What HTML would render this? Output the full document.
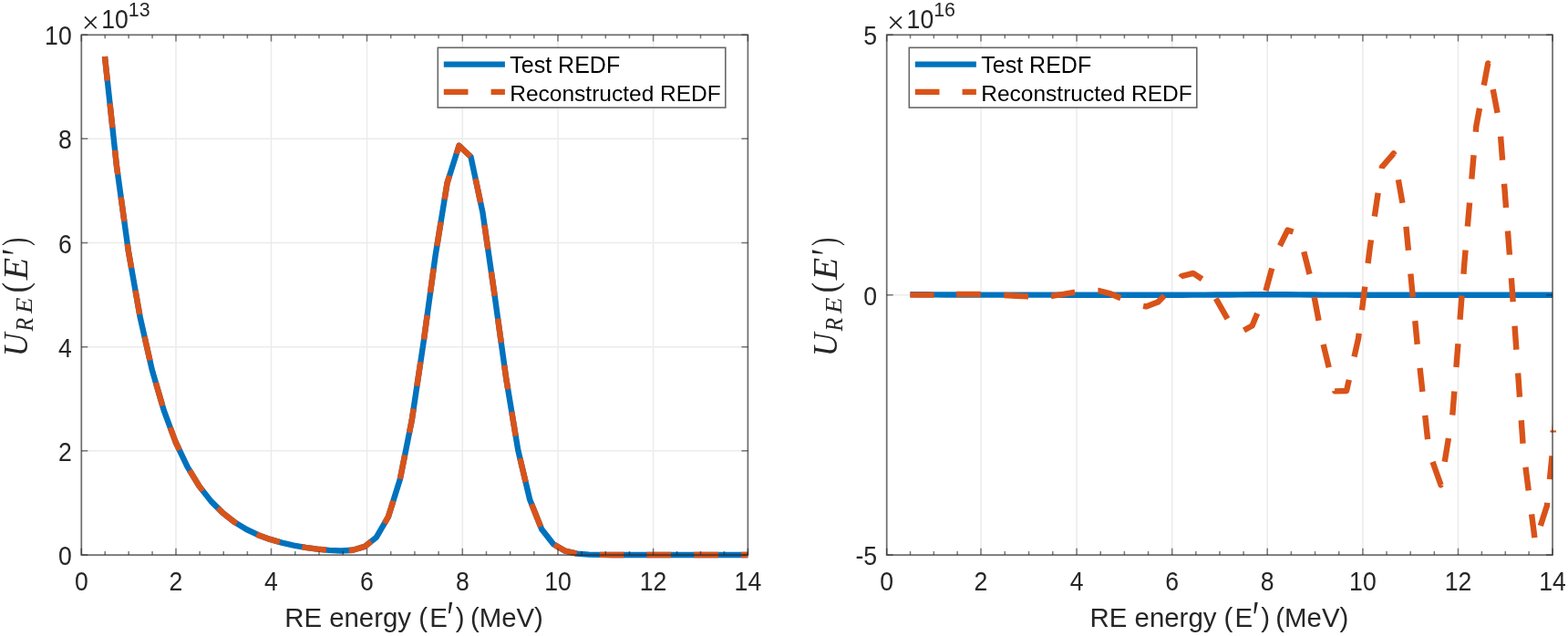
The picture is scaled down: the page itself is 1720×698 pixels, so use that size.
<!DOCTYPE html>
<html><head><meta charset="utf-8"><title>REDF reconstruction</title>
<style>
html,body{margin:0;padding:0;background:#fff;}
body{width:1720px;height:698px;overflow:hidden;}
svg{display:block;}
.g{stroke:#ebebeb;stroke-width:1.5;fill:none;}
.ax{fill:none;stroke:#262626;stroke-width:1.7;stroke-opacity:0.68;}
.t{stroke:#262626;stroke-width:1.5;stroke-opacity:0.6;fill:none;}
.tl{font-family:"Liberation Sans",Arial,sans-serif;font-size:26.6px;fill:#262626;}
.tx{font-family:"Liberation Serif","Times New Roman",serif;font-size:34px;fill:#262626;}
.sup{font-family:"Liberation Sans",Arial,sans-serif;font-size:21.4px;fill:#262626;}
.xl{font-family:"Liberation Sans",Arial,sans-serif;font-size:29.4px;fill:#262626;}
.pr{font-family:"Liberation Sans",Arial,sans-serif;font-size:200px;fill:#262626;}
.yl{font-family:"Liberation Serif","Times New Roman",serif;font-size:200px;fill:#262626;}
.lg{fill:#fff;stroke:#262626;stroke-width:1.6;stroke-opacity:0.7;}
.lt{font-family:"Liberation Sans",Arial,sans-serif;font-size:24.5px;fill:#000;}
</style></head><body>
<svg width="1720" height="698" viewBox="0 0 1720 698">
<defs>
<clipPath id="cl"><rect x="89.30" y="34.30" width="731.10" height="578.80"/></clipPath>
<clipPath id="cr"><rect x="972.70" y="34.30" width="730.35" height="578.80"/></clipPath>
</defs>
<line x1="193.00" y1="38.30" x2="193.00" y2="609.10" class="g"/>
<line x1="297.50" y1="38.30" x2="297.50" y2="609.10" class="g"/>
<line x1="402.50" y1="38.30" x2="402.50" y2="609.10" class="g"/>
<line x1="507.30" y1="38.30" x2="507.30" y2="609.10" class="g"/>
<line x1="612.00" y1="38.30" x2="612.00" y2="609.10" class="g"/>
<line x1="716.60" y1="38.30" x2="716.60" y2="609.10" class="g"/>
<line x1="89.30" y1="494.84" x2="820.40" y2="494.84" class="g"/>
<line x1="89.30" y1="380.68" x2="820.40" y2="380.68" class="g"/>
<line x1="89.30" y1="266.52" x2="820.40" y2="266.52" class="g"/>
<line x1="89.30" y1="152.36" x2="820.40" y2="152.36" class="g"/>
<g clip-path="url(#cl)">
<path d="M114.97,61.99 L127.92,182.01 L140.88,275.69 L153.83,348.82 L166.78,405.91 L179.73,450.47 L192.68,485.25 L205.63,512.40 L218.58,533.60 L231.53,550.14 L244.49,563.05 L257.44,573.13 L270.39,581.00 L283.34,587.15 L296.29,591.94 L309.24,595.68 L322.19,598.60 L335.14,600.88 L348.10,602.62 L361.05,603.87 L374.00,604.45 L386.95,603.70 L399.90,599.92 L412.85,589.69 L425.80,567.42 L438.75,526.29 L451.71,461.46 L464.66,375.14 L477.61,280.55 L490.56,200.69 L503.51,159.89 L516.46,171.99 L529.41,232.84 L542.36,322.58 L555.32,416.09 L568.27,494.06 L581.22,548.41 L594.17,580.74 L607.12,597.33 L620.07,604.73 L633.02,607.61 L645.97,608.59 L658.93,608.88 L671.88,608.97 L684.83,608.99 L697.78,608.99 L710.73,608.99 L723.68,609.00 L736.63,609.00 L749.58,609.00 L762.54,609.00 L775.49,609.00 L788.44,609.00 L801.39,609.00 L814.34,609.00 L827.29,609.00 L840.24,609.00" fill="none" stroke="#0072BD" stroke-width="6.4" stroke-linejoin="round"/>
<path d="M114.97,61.99 L127.92,182.01 L140.88,275.69 L153.83,348.82 L166.78,405.91 L179.73,450.47 L192.68,485.25 L205.63,512.40 L218.58,533.60 L231.53,550.14 L244.49,563.05 L257.44,573.13 L270.39,581.00 L283.34,587.15 L296.29,591.94 L309.24,595.68 L322.19,598.60 L335.14,600.88 L348.10,602.62 L361.05,603.87 L374.00,604.45 L386.95,603.70 L399.90,599.92 L412.85,589.69 L425.80,567.42 L438.75,526.29 L451.71,461.46 L464.66,375.14 L477.61,280.55 L490.56,200.69 L503.51,159.89 L516.46,171.99 L529.41,232.84 L542.36,322.58 L555.32,416.09 L568.27,494.06 L581.22,548.41 L594.17,580.74 L607.12,597.33 L620.07,604.73 L633.02,607.61 L645.97,608.59 L658.93,608.88 L671.88,608.97 L684.83,608.99 L697.78,608.99 L710.73,608.99 L723.68,609.00 L736.63,609.00 L749.58,609.00 L762.54,609.00 L775.49,609.00 L788.44,609.00 L801.39,609.00 L814.34,609.00 L827.29,609.00 L840.24,609.00" fill="none" stroke="#D95319" stroke-width="6.4" stroke-dasharray="26.7 25.1" stroke-linejoin="round"/>
</g>
<rect x="89.30" y="38.30" width="731.10" height="570.80" class="ax"/>
<path d="M89.30,609.10V601.80M89.30,38.30V45.60M115.22,609.10V605.10M115.22,38.30V42.30M141.15,609.10V605.10M141.15,38.30V42.30M167.07,609.10V605.10M167.07,38.30V42.30M193.00,609.10V601.80M193.00,38.30V45.60M219.12,609.10V605.10M219.12,38.30V42.30M245.25,609.10V605.10M245.25,38.30V42.30M271.38,609.10V605.10M271.38,38.30V42.30M297.50,609.10V601.80M297.50,38.30V45.60M323.75,609.10V605.10M323.75,38.30V42.30M350.00,609.10V605.10M350.00,38.30V42.30M376.25,609.10V605.10M376.25,38.30V42.30M402.50,609.10V601.80M402.50,38.30V45.60M428.70,609.10V605.10M428.70,38.30V42.30M454.90,609.10V605.10M454.90,38.30V42.30M481.10,609.10V605.10M481.10,38.30V42.30M507.30,609.10V601.80M507.30,38.30V45.60M533.48,609.10V605.10M533.48,38.30V42.30M559.65,609.10V605.10M559.65,38.30V42.30M585.83,609.10V605.10M585.83,38.30V42.30M612.00,609.10V601.80M612.00,38.30V45.60M638.15,609.10V605.10M638.15,38.30V42.30M664.30,609.10V605.10M664.30,38.30V42.30M690.45,609.10V605.10M690.45,38.30V42.30M716.60,609.10V601.80M716.60,38.30V45.60M742.55,609.10V605.10M742.55,38.30V42.30M768.50,609.10V605.10M768.50,38.30V42.30M794.45,609.10V605.10M794.45,38.30V42.30M820.40,609.10V601.80M820.40,38.30V45.60M89.30,609.00H96.30M820.40,609.00H813.40M89.30,494.84H96.30M820.40,494.84H813.40M89.30,380.68H96.30M820.40,380.68H813.40M89.30,266.52H96.30M820.40,266.52H813.40M89.30,152.36H96.30M820.40,152.36H813.40M89.30,38.20H96.30M820.40,38.20H813.40" class="t"/>
<rect x="480.30" y="52.30" width="315.50" height="65.80" class="lg"/>
<line x1="486.80" y1="70.6" x2="553.90" y2="70.6" stroke="#0072BD" stroke-width="6.4"/>
<line x1="486.80" y1="100.9" x2="553.90" y2="100.9" stroke="#D95319" stroke-width="6.4" stroke-dasharray="26.7 25.1"/>
<text x="559.30" y="79.8" class="lt" style="font-size:25px">Test REDF</text>
<text x="559.30" y="110.8" class="lt">Reconstructed REDF</text>
<text transform="translate(89.30,647.8) scale(1,1.09)" class="tl" text-anchor="middle">0</text>
<text transform="translate(193.00,647.8) scale(1,1.09)" class="tl" text-anchor="middle">2</text>
<text transform="translate(297.50,647.8) scale(1,1.09)" class="tl" text-anchor="middle">4</text>
<text transform="translate(402.50,647.8) scale(1,1.09)" class="tl" text-anchor="middle">6</text>
<text transform="translate(507.30,647.8) scale(1,1.09)" class="tl" text-anchor="middle">8</text>
<text transform="translate(612.00,647.8) scale(1,1.09)" class="tl" text-anchor="middle">10</text>
<text transform="translate(716.60,647.8) scale(1,1.09)" class="tl" text-anchor="middle">12</text>
<text transform="translate(820.40,647.8) scale(1,1.09)" class="tl" text-anchor="middle">14</text>
<text transform="translate(78.70,620.00) scale(1,1.09)" class="tl" text-anchor="end">0</text>
<text transform="translate(78.70,505.84) scale(1,1.09)" class="tl" text-anchor="end">2</text>
<text transform="translate(78.70,391.68) scale(1,1.09)" class="tl" text-anchor="end">4</text>
<text transform="translate(78.70,277.52) scale(1,1.09)" class="tl" text-anchor="end">6</text>
<text transform="translate(78.70,163.36) scale(1,1.09)" class="tl" text-anchor="end">8</text>
<text transform="translate(78.70,49.20) scale(1,1.09)" class="tl" text-anchor="end">10</text>
<text x="89.70" y="36.3" class="tx">&#215;</text>
<text transform="translate(111.20,31.2) scale(1,1.09)" class="tl">10</text>
<text x="140.80" y="18.0" class="sup">13</text>
<text x="312.20" y="687.7" class="xl">RE energy (</text>
<text x="471.20" y="687.7" class="xl">E</text>
<text transform="translate(490.60,693.9) scale(0.17,0.2406)" class="pr">&#8242;</text>
<text x="499.80" y="687.7" class="xl">)</text>
<text x="515.90" y="687.7" class="xl">(MeV)</text>
<text transform="translate(29.82,391.19) rotate(-90) scale(0.1787,0.1917)" class="yl" font-style="italic">U</text>
<text transform="translate(35.70,363.58) rotate(-90) scale(0.1192,0.1369)" class="yl" font-style="italic">R</text>
<text transform="translate(35.20,343.91) rotate(-90) scale(0.1430,0.1282)" class="yl" font-style="italic">E</text>
<text transform="translate(29.96,321.32) rotate(-90) scale(0.1686,0.1961)" class="yl" font-style="normal">(</text>
<text transform="translate(29.60,307.20) rotate(-90) scale(0.2000,0.1847)" class="yl" font-style="italic">E</text>
<text transform="translate(34.62,280.35) rotate(-90) scale(0.1750,0.2383)" class="yl" font-style="normal">&#8242;</text>
<text transform="translate(29.96,269.93) rotate(-90) scale(0.1385,0.1961)" class="yl" font-style="normal">)</text>
<line x1="1076.00" y1="38.30" x2="1076.00" y2="609.10" class="g"/>
<line x1="1181.10" y1="38.30" x2="1181.10" y2="609.10" class="g"/>
<line x1="1285.70" y1="38.30" x2="1285.70" y2="609.10" class="g"/>
<line x1="1390.20" y1="38.30" x2="1390.20" y2="609.10" class="g"/>
<line x1="1494.90" y1="38.30" x2="1494.90" y2="609.10" class="g"/>
<line x1="1599.50" y1="38.30" x2="1599.50" y2="609.10" class="g"/>
<line x1="972.70" y1="323.70" x2="1703.05" y2="323.70" class="g"/>
<g clip-path="url(#cr)">
<path d="M998.46,323.15 L1011.39,323.27 L1024.33,323.37 L1037.26,323.44 L1050.20,323.50 L1063.13,323.54 L1076.07,323.58 L1089.00,323.60 L1101.94,323.62 L1114.87,323.64 L1127.81,323.65 L1140.74,323.66 L1153.68,323.67 L1166.61,323.68 L1179.55,323.68 L1192.48,323.69 L1205.42,323.69 L1218.35,323.69 L1231.29,323.69 L1244.22,323.69 L1257.16,323.70 L1270.09,323.69 L1283.03,323.69 L1295.96,323.68 L1308.90,323.66 L1321.83,323.62 L1334.77,323.55 L1347.70,323.47 L1360.64,323.37 L1373.57,323.29 L1386.51,323.25 L1399.44,323.26 L1412.38,323.32 L1425.31,323.41 L1438.25,323.51 L1451.18,323.59 L1464.12,323.64 L1477.05,323.67 L1489.99,323.69 L1502.92,323.70 L1515.86,323.70 L1528.79,323.70 L1541.73,323.70 L1554.66,323.70 L1567.60,323.70 L1580.53,323.70 L1593.47,323.70 L1606.40,323.70 L1619.33,323.70 L1632.27,323.70 L1645.20,323.70 L1658.14,323.70 L1671.07,323.70 L1684.01,323.70 L1696.94,323.70 L1709.88,323.70 L1722.81,323.70" fill="none" stroke="#0072BD" stroke-width="6.4" stroke-linejoin="round"/>
<path d="M998.46,323.60 L1011.39,323.67 L1024.33,323.60 L1037.26,323.29 L1050.20,322.97 L1063.13,322.86 L1076.07,323.00 L1089.00,323.42 L1101.94,324.05 L1114.87,324.80 L1127.81,325.40 L1140.74,325.56 L1153.68,324.86 L1166.61,322.94 L1179.55,320.64 L1192.48,318.83 L1205.42,319.02 L1218.35,322.46 L1231.29,328.02 L1244.22,334.10 L1257.16,336.42 L1270.09,331.61 L1283.03,318.82 L1295.96,303.17 L1308.90,299.89 L1321.83,308.36 L1334.77,329.37 L1347.70,352.03 L1360.64,364.69 L1373.57,357.42 L1386.51,326.51 L1399.44,279.01 L1412.38,252.60 L1425.31,256.68 L1438.25,307.83 L1451.18,376.37 L1464.12,429.36 L1477.05,429.05 L1489.99,371.64 L1502.92,270.40 L1515.86,183.44 L1528.79,168.36 L1541.73,241.36 L1554.66,377.37 L1567.60,495.83 L1580.53,532.26 L1593.47,453.35 L1606.40,288.22 L1619.33,138.42 L1632.27,69.41 L1645.20,137.66 L1658.14,309.12 L1671.07,494.24 L1684.01,594.97 L1696.94,554.98 L1709.88,429.05" fill="none" stroke="#D95319" stroke-width="6.4" stroke-dasharray="26.1 24.6 26.6 25.5 26.8 25.1 26.4 25.4 26.4 26.4 26.9 26.7 26.7 26.5 25.6 25.1 24.9 26.6 25.6 26.4 25.5 27.4 25.3 25.8 26.2 26.6 25.9 26.4 26.0 26.0 26.1 25.8 25.9 25.9 25.8 26.1 26.2 27.0 23.0 27.7 25.9 26.3 26.2 25.8 25.8 26.1 25.8 26.3 26.0 26.3 26.3 25.6 26.9 25.9 26.1 25.8 26.0 26.6 25.9 26.6 26.2 24.0 26.2 26.1 26.2 26.0 26.3 25.6 26.3 25.8 25.1 28.7 26.1 26.2 26.2 26.0 26.2 25.7 26.2 25.6 26.1 26.6 26.1 25.8 26.4 25.4 25.7 26.1 25.8 26.3 26.0 23.7 26.4 25.9 25.8 25.6 26.2 25.6 26.2 25.6 26.2 25.6 26.2 25.6" stroke-linejoin="round"/>
</g>
<rect x="1700.4" y="472.4" width="6.6" height="2.1" fill="#D95319"/>
<rect x="972.70" y="38.30" width="730.35" height="570.80" class="ax"/>
<path d="M972.70,609.10V601.80M972.70,38.30V45.60M998.53,609.10V605.10M998.53,38.30V42.30M1024.35,609.10V605.10M1024.35,38.30V42.30M1050.17,609.10V605.10M1050.17,38.30V42.30M1076.00,609.10V601.80M1076.00,38.30V45.60M1102.28,609.10V605.10M1102.28,38.30V42.30M1128.55,609.10V605.10M1128.55,38.30V42.30M1154.82,609.10V605.10M1154.82,38.30V42.30M1181.10,609.10V601.80M1181.10,38.30V45.60M1207.25,609.10V605.10M1207.25,38.30V42.30M1233.40,609.10V605.10M1233.40,38.30V42.30M1259.55,609.10V605.10M1259.55,38.30V42.30M1285.70,609.10V601.80M1285.70,38.30V45.60M1311.83,609.10V605.10M1311.83,38.30V42.30M1337.95,609.10V605.10M1337.95,38.30V42.30M1364.08,609.10V605.10M1364.08,38.30V42.30M1390.20,609.10V601.80M1390.20,38.30V45.60M1416.38,609.10V605.10M1416.38,38.30V42.30M1442.55,609.10V605.10M1442.55,38.30V42.30M1468.73,609.10V605.10M1468.73,38.30V42.30M1494.90,609.10V601.80M1494.90,38.30V45.60M1521.05,609.10V605.10M1521.05,38.30V42.30M1547.20,609.10V605.10M1547.20,38.30V42.30M1573.35,609.10V605.10M1573.35,38.30V42.30M1599.50,609.10V601.80M1599.50,38.30V45.60M1625.39,609.10V605.10M1625.39,38.30V42.30M1651.28,609.10V605.10M1651.28,38.30V42.30M1677.16,609.10V605.10M1677.16,38.30V42.30M1703.05,609.10V601.80M1703.05,38.30V45.60M972.70,609.10H979.70M1703.05,609.10H1696.05M972.70,323.70H979.70M1703.05,323.70H1696.05M972.70,38.30H979.70M1703.05,38.30H1696.05" class="t"/>
<rect x="997.30" y="52.30" width="315.50" height="65.80" class="lg"/>
<line x1="1003.80" y1="70.6" x2="1070.90" y2="70.6" stroke="#0072BD" stroke-width="6.4"/>
<line x1="1003.80" y1="100.9" x2="1070.90" y2="100.9" stroke="#D95319" stroke-width="6.4" stroke-dasharray="26.7 25.1"/>
<text x="1076.30" y="79.8" class="lt" style="font-size:25px">Test REDF</text>
<text x="1076.30" y="110.8" class="lt">Reconstructed REDF</text>
<text transform="translate(972.70,647.8) scale(1,1.09)" class="tl" text-anchor="middle">0</text>
<text transform="translate(1076.00,647.8) scale(1,1.09)" class="tl" text-anchor="middle">2</text>
<text transform="translate(1181.10,647.8) scale(1,1.09)" class="tl" text-anchor="middle">4</text>
<text transform="translate(1285.70,647.8) scale(1,1.09)" class="tl" text-anchor="middle">6</text>
<text transform="translate(1390.20,647.8) scale(1,1.09)" class="tl" text-anchor="middle">8</text>
<text transform="translate(1494.90,647.8) scale(1,1.09)" class="tl" text-anchor="middle">10</text>
<text transform="translate(1599.50,647.8) scale(1,1.09)" class="tl" text-anchor="middle">12</text>
<text transform="translate(1703.05,647.8) scale(1,1.09)" class="tl" text-anchor="middle">14</text>
<text transform="translate(962.10,620.10) scale(1,1.09)" class="tl" text-anchor="end">-5</text>
<text transform="translate(962.10,334.70) scale(1,1.09)" class="tl" text-anchor="end">0</text>
<text transform="translate(962.10,49.30) scale(1,1.09)" class="tl" text-anchor="end">5</text>
<text x="973.10" y="36.3" class="tx">&#215;</text>
<text transform="translate(994.60,31.2) scale(1,1.09)" class="tl">10</text>
<text x="1024.20" y="18.0" class="sup">16</text>
<text x="1195.60" y="687.7" class="xl">RE energy (</text>
<text x="1354.60" y="687.7" class="xl">E</text>
<text transform="translate(1374.00,693.9) scale(0.17,0.2406)" class="pr">&#8242;</text>
<text x="1383.20" y="687.7" class="xl">)</text>
<text x="1399.30" y="687.7" class="xl">(MeV)</text>
<text transform="translate(918.02,391.19) rotate(-90) scale(0.1787,0.1917)" class="yl" font-style="italic">U</text>
<text transform="translate(923.90,363.58) rotate(-90) scale(0.1192,0.1369)" class="yl" font-style="italic">R</text>
<text transform="translate(923.40,343.91) rotate(-90) scale(0.1430,0.1282)" class="yl" font-style="italic">E</text>
<text transform="translate(918.16,321.32) rotate(-90) scale(0.1686,0.1961)" class="yl" font-style="normal">(</text>
<text transform="translate(917.80,307.20) rotate(-90) scale(0.2000,0.1847)" class="yl" font-style="italic">E</text>
<text transform="translate(922.82,280.35) rotate(-90) scale(0.1750,0.2383)" class="yl" font-style="normal">&#8242;</text>
<text transform="translate(918.16,269.93) rotate(-90) scale(0.1385,0.1961)" class="yl" font-style="normal">)</text>
</svg>
</body></html>
